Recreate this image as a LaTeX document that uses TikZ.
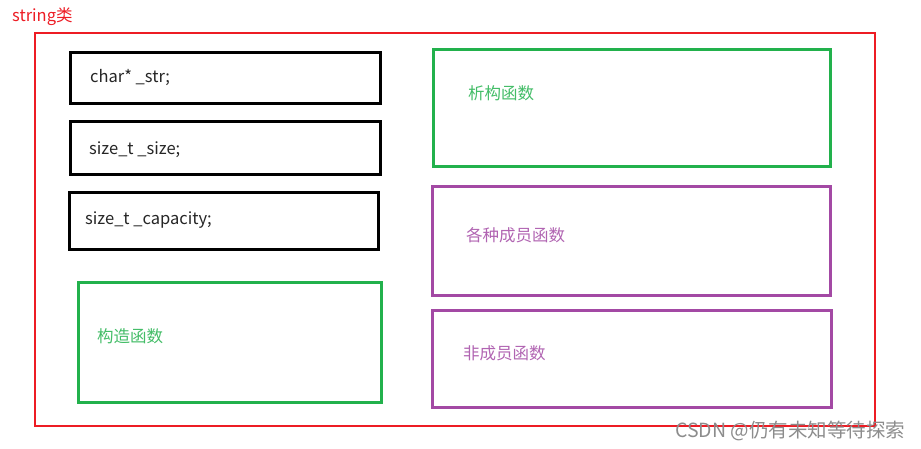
\documentclass[tikz,border=0pt]{standalone}
\usepackage{fontspec}
\setmainfont{Noto Sans CJK SC}
\usepackage{xcolor}
\usetikzlibrary{positioning}

\definecolor{frame red}{HTML}{ED1C24}
\definecolor{fun green}{HTML}{22B14C}
\definecolor{fun purple}{HTML}{A349A4}

\tikzset{
	box/.style={draw, rectangle, inner sep=0pt, fill=white},
	blackbox/.style={box, draw=black, line width=3pt},
	greenbox/.style={box, draw=fun green, line width=3pt},
	purplebox/.style={box, draw=fun purple, line width=3pt},
	txt/.style={anchor=west, inner sep=0pt, font=\fontsize{16.5}{19}\selectfont}
}

\begin{document}
\begin{tikzpicture}[x=1pt, y=-1pt]
		\useasboundingbox (0,0) rectangle (921,449);

		\node[box, draw=frame red, line width=2.8pt, minimum width=840pt, minimum height=393pt] (string) at (455,229.5) {};
		\node[txt, text=frame red] (string label) at (12,17) {string类};

		\node[blackbox, minimum width=310pt, minimum height=51pt] (str) at (225,78.5) {};
		\node[blackbox, minimum width=310pt, minimum height=53pt] (size) at (225,148.5) {};
		\node[blackbox, minimum width=309pt, minimum height=57pt] (capacity) at (223.5,221.5) {};
		\node[greenbox, minimum width=303pt, minimum height=120pt] (ctor) at (229.5,342) {};

		\node[greenbox, minimum width=397pt, minimum height=117pt] (dtor) at (631.5,108.5) {};
		\node[purplebox, minimum width=398pt, minimum height=108pt] (members) at (631,241) {};
		\node[purplebox, minimum width=399pt, minimum height=97pt] (nonmembers) at (631.5,358.5) {};

		\node[txt, text=black!85] (str text) at (90,78) {char* \_str;};
		\node[txt, text=black!85] (size text) at (89,150) {size\_t \_size;};
		\node[txt, text=black!85] (capacity text) at (85,220) {size\_t \_capacity;};
		\node[txt, text=fun green!85] (ctor text) at (97,336) {构造函数};
		\node[txt, text=fun green!85] (dtor text) at (468,93) {析构函数};
		\node[txt, text=fun purple!85] (members text) at (466,235) {各种成员函数};
		\node[txt, text=fun purple!85] (nonmembers text) at (463,353) {非成员函数};

		\node[txt, text=black!45, font=\fontsize{19.5}{22}\selectfont] (mark) at (675,431) {CSDN @仍有未知等待探索};
	\end{tikzpicture}
\end{document}
